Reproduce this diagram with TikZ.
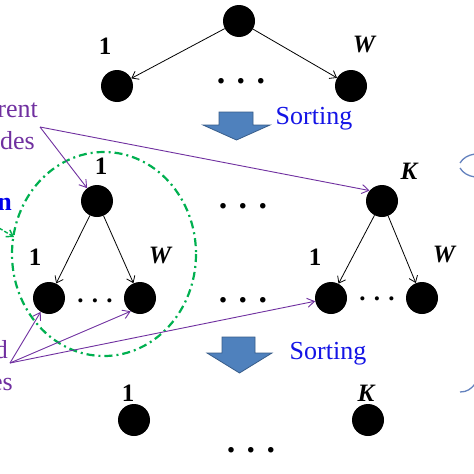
\documentclass[tikz,border=0pt]{standalone}
\usepackage{fontspec}
\setmainfont{Liberation Serif}
\usetikzlibrary{arrows.meta}
\definecolor{purp}{RGB}{112,48,160}
\definecolor{sortblue}{RGB}{20,20,230}
\definecolor{nblue}{RGB}{0,0,235}
\definecolor{arrfill}{RGB}{79,129,189}
\definecolor{arrline}{RGB}{56,93,138}
\definecolor{dgreen}{RGB}{0,176,80}
\definecolor{bracecol}{RGB}{100,130,190}
\begin{document}
\begin{tikzpicture}[x=1pt,y=-1pt,
 dot/.style={circle,fill=black,minimum size=32pt,inner sep=0pt},
 lab/.style={font=\fontsize{25}{27}\selectfont\bfseries, inner sep=0pt},
 ilab/.style={font=\fontsize{25}{27}\selectfont\bfseries\itshape, inner sep=0pt},
 edge/.style={-{Straight Barb[length=6pt,width=9pt]}, line width=0.8pt},
 parr/.style={purp, line width=0.9pt, -{Straight Barb[length=7pt,width=9pt]}},
 bigdots/.style={font=\fontsize{34}{34}\selectfont\bfseries, anchor=base, inner sep=0pt},
 smalldots/.style={font=\fontsize{25}{25}\selectfont\bfseries, anchor=base, inner sep=0pt},
 sorttext/.style={font=\fontsize{26}{28}\selectfont, text=sortblue, inner sep=0pt},
 sidetext/.style={font=\fontsize{26}{28}\selectfont, text=purp, inner sep=0pt, anchor=base east},
 blockarrow/.style={fill=arrfill, draw=arrline, line width=0.8pt},
 bracestyle/.style={draw=bracecol, line width=1.3pt}
]
\useasboundingbox (0,0) rectangle (474,474);
\fill[white] (0,0) rectangle (474,474);

% top tree
\node[dot] (T0) at (239,21) {};
\node[dot] (T0a) at (117,86) {};
\node[dot] (T0b) at (351,86) {};
\node[lab] (T0al) at (105,46) {1};
\node[ilab] (T0bl) at (364,45) {W};
\node[bigdots] (T0d) at (241,83) {. . .};
\draw[edge] (T0) -- (T0a);
\draw[edge] (T0) -- (T0b);

% sorting 1
\draw[blockarrow] (219,112) -- (253,112) -- (253,125) -- (270,125) -- (236.5,140) -- (203,125) -- (219,125) -- cycle;
\node[sorttext] (S1) at (314,119) {Sorting};

% tree 1
\node[dot] (R1) at (97,201) {};
\node[dot] (C1a) at (49,298) {};
\node[dot] (C1b) at (140,298) {};
\node[lab] (R1l) at (101,166) {1};
\node[lab] (C1al) at (35,257) {1};
\node[ilab] (C1bl) at (160,256) {W};
\node[smalldots] (C1d) at (95,302) {. . .};
\draw[edge] (R1) -- (C1a);
\draw[edge] (R1) -- (C1b);

% middle dots
\node[bigdots] (M1) at (243,208) {. . .};
\node[bigdots] (M2) at (243,302) {. . .};

% tree K
\node[dot] (RK) at (382,201) {};
\node[dot] (CKa) at (331,298) {};
\node[dot] (CKb) at (422,298) {};
\node[ilab] (RKl) at (409,171) {K};
\node[lab] (CKal) at (315,257) {1};
\node[ilab] (CKbl) at (444,255) {W};
\node[smalldots] (CKd) at (377,300) {. . .};
\draw[edge] (RK) -- (CKa);
\draw[edge] (RK) -- (CKb);

% green circle
\draw[dgreen, line width=2.2pt, dash pattern=on 8pt off 4pt on 2pt off 4pt] (104,254) ellipse [x radius=92, y radius=102];
\coordinate (g0) at (-6,225);
\coordinate (g1) at (14,237);
\draw[dgreen, line width=1.4pt, dash pattern=on 4pt off 2pt, -{Straight Barb[length=6pt,width=8pt]}] (g0) -- (g1);
\node[font=\fontsize{26}{28}\selectfont\bfseries, text=nblue, inner sep=0pt, anchor=base east] (nt) at (12,210) {n};

% side texts
\node[sidetext] (pt1) at (38,117) {rent};
\node[sidetext] (pt2) at (35,149) {des};
\node[sidetext] (ct1) at (8,358) {d};
\node[sidetext] (ct2) at (13,390) {es};

% purple arrows
\coordinate (p) at (40,127);
\coordinate (c) at (10,363);
\draw[parr] (p) -- (R1);
\draw[parr] (p) -- (RK.140);
\draw[parr] (c) -- (C1a);
\draw[parr] (c) -- (C1b.235);
\draw[parr] (c) -- (CKa);

% sorting 2
\draw[blockarrow] (222,337) -- (255,337) -- (255,353) -- (272,353) -- (239.5,373) -- (207,353) -- (222,353) -- cycle;
\node[sorttext] (S2) at (328,354) {Sorting};

% bottom row
\node[dot] (B1) at (134,420) {};
\node[dot] (BK) at (368,420) {};
\node[lab] (B1l) at (128,393) {1};
\node[ilab] (BKl) at (366,393) {K};
\node[bigdots] (Bd) at (251,452) {. . .};

% brace fragments
\draw[bracestyle] (475,154) .. controls (468,155) and (463,158) .. (460,163);
\draw[bracestyle] (460,168) .. controls (463,173) and (468,176) .. (475,177);
\draw[bracestyle] (460,392) .. controls (467,392) and (471,389) .. (475,384);
\end{tikzpicture}
\end{document}
